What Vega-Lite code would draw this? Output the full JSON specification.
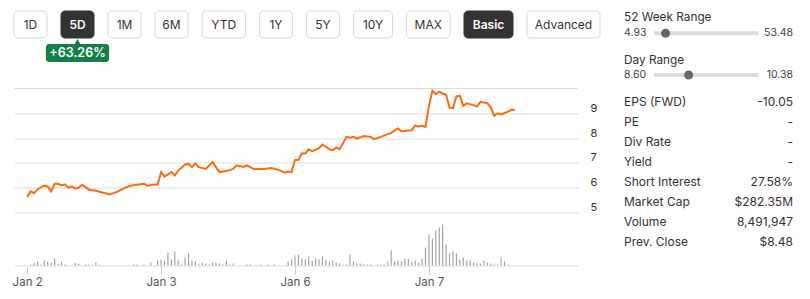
{
  "$schema": "https://vega.github.io/schema/vega-lite/v6.json",
  "padding": {"left": 12, "top": 0, "right": 0, "bottom": 0},
  "background": "#ffffff",
  "spacing": 23,
  "config": {"view": {"stroke": null}, "font": "Inter"},
  "datasets": {
    "buttons": [
      {"order": 1, "label": "1D", "state": "off"},
      {"order": 2, "label": "5D", "state": "on", "change": "+63.26%"},
      {"order": 3, "label": "1M", "state": "off"},
      {"order": 4, "label": "6M", "state": "off"},
      {"order": 5, "label": "YTD", "state": "off"},
      {"order": 6, "label": "1Y", "state": "off"},
      {"order": 7, "label": "5Y", "state": "off"},
      {"order": 8, "label": "10Y", "state": "off"},
      {"order": 9, "label": "MAX", "state": "off"},
      {"order": 10, "label": "Basic", "state": "on"},
      {"order": 11, "label": "Advanced", "state": "off"}
    ],
    "ranges": [
      {"name": "52 Week Range", "low": 4.93, "high": 53.48, "thumb": 10.3},
      {"name": "Day Range", "low": 8.6, "high": 10.38, "thumb": 9.19}
    ],
    "stats": [
      {"label": "EPS (FWD)", "value": "-10.05"},
      {"label": "PE", "value": "-"},
      {"label": "Div Rate", "value": "-"},
      {"label": "Yield", "value": "-"},
      {"label": "Short Interest", "value": "27.58%"},
      {"label": "Market Cap", "value": "$282.35M"},
      {"label": "Volume", "value": "8,491,947"},
      {"label": "Prev. Close", "value": "$8.48"}
    ],
    "price": [
      {"t": 0, "price": 5.62}, {"t": 1, "price": 5.85}, {"t": 2, "price": 5.78}, {"t": 3, "price": 5.93},
      {"t": 5, "price": 6.09}, {"t": 6, "price": 6.05}, {"t": 7, "price": 5.85}, {"t": 8, "price": 6.16},
      {"t": 9, "price": 6.16}, {"t": 10, "price": 6.09}, {"t": 11, "price": 6.13}, {"t": 12, "price": 6.0},
      {"t": 13, "price": 6.05}, {"t": 14, "price": 5.96}, {"t": 15, "price": 6.0}, {"t": 16, "price": 6.12},
      {"t": 18, "price": 5.92}, {"t": 20, "price": 5.88}, {"t": 24, "price": 5.73}, {"t": 26, "price": 5.82},
      {"t": 28, "price": 5.96}, {"t": 30, "price": 6.08}, {"t": 32, "price": 6.12}, {"t": 34, "price": 6.16},
      {"t": 35, "price": 6.08}, {"t": 37, "price": 6.13}, {"t": 38, "price": 6.13}, {"t": 39, "price": 6.63},
      {"t": 40, "price": 6.45}, {"t": 42, "price": 6.63}, {"t": 43, "price": 6.49}, {"t": 44, "price": 6.69},
      {"t": 46, "price": 6.94}, {"t": 47, "price": 6.96}, {"t": 48, "price": 6.83}, {"t": 49, "price": 6.98},
      {"t": 50, "price": 6.83}, {"t": 52, "price": 6.76}, {"t": 54, "price": 7.03}, {"t": 56, "price": 6.63},
      {"t": 58, "price": 6.67}, {"t": 60, "price": 6.76}, {"t": 61, "price": 6.9}, {"t": 63, "price": 6.84},
      {"t": 64, "price": 6.9}, {"t": 66, "price": 6.75}, {"t": 69, "price": 6.75}, {"t": 71, "price": 6.79},
      {"t": 73, "price": 6.73}, {"t": 75, "price": 6.61}, {"t": 76, "price": 6.65}, {"t": 77, "price": 6.63},
      {"t": 78, "price": 7.12}, {"t": 79, "price": 7.12}, {"t": 80, "price": 7.39}, {"t": 81, "price": 7.38},
      {"t": 82, "price": 7.55}, {"t": 83, "price": 7.47}, {"t": 85, "price": 7.59}, {"t": 86, "price": 7.74},
      {"t": 88, "price": 7.55}, {"t": 89, "price": 7.51}, {"t": 90, "price": 7.62}, {"t": 91, "price": 7.55},
      {"t": 93, "price": 8.05}, {"t": 94, "price": 8.02}, {"t": 95, "price": 8.05}, {"t": 96, "price": 7.98},
      {"t": 98, "price": 8.08}, {"t": 100, "price": 8.05}, {"t": 101, "price": 7.96}, {"t": 103, "price": 8.05},
      {"t": 105, "price": 8.16}, {"t": 106, "price": 8.2}, {"t": 107, "price": 8.31}, {"t": 108, "price": 8.39},
      {"t": 109, "price": 8.27}, {"t": 111, "price": 8.31}, {"t": 112, "price": 8.32}, {"t": 113, "price": 8.5},
      {"t": 114, "price": 8.47}, {"t": 115, "price": 8.5}, {"t": 116, "price": 8.45}, {"t": 117, "price": 9.3},
      {"t": 118, "price": 9.91}, {"t": 119, "price": 9.77}, {"t": 120, "price": 9.87}, {"t": 121, "price": 9.8},
      {"t": 122, "price": 9.75}, {"t": 123, "price": 9.23}, {"t": 124, "price": 9.21}, {"t": 125, "price": 9.68},
      {"t": 126, "price": 9.71}, {"t": 127, "price": 9.3}, {"t": 128, "price": 9.4}, {"t": 130, "price": 9.33},
      {"t": 131, "price": 9.27}, {"t": 132, "price": 9.46}, {"t": 134, "price": 9.41}, {"t": 135, "price": 9.23},
      {"t": 136, "price": 8.9}, {"t": 137, "price": 9.0}, {"t": 138, "price": 8.95}, {"t": 140, "price": 9.07},
      {"t": 141, "price": 9.14}, {"t": 142, "price": 9.14}
    ],
    "volume": [
      {"t": 1, "vol": 29600}, {"t": 2, "vol": 79900}, {"t": 3, "vol": 118400}, {"t": 4, "vol": 29600},
      {"t": 5, "vol": 148000}, {"t": 6, "vol": 118400}, {"t": 7, "vol": 88800}, {"t": 8, "vol": 207200},
      {"t": 9, "vol": 50300}, {"t": 10, "vol": 118400}, {"t": 11, "vol": 29600}, {"t": 14, "vol": 79900},
      {"t": 15, "vol": 50300}, {"t": 17, "vol": 29600}, {"t": 18, "vol": 29600}, {"t": 19, "vol": 29600},
      {"t": 20, "vol": 88800}, {"t": 21, "vol": 29600}, {"t": 31, "vol": 29600}, {"t": 32, "vol": 29600},
      {"t": 34, "vol": 29600}, {"t": 36, "vol": 88800}, {"t": 38, "vol": 148000}, {"t": 39, "vol": 177600},
      {"t": 40, "vol": 148000}, {"t": 41, "vol": 384800}, {"t": 42, "vol": 177600}, {"t": 43, "vol": 414400},
      {"t": 44, "vol": 148000}, {"t": 45, "vol": 29600}, {"t": 46, "vol": 236800}, {"t": 47, "vol": 355200},
      {"t": 48, "vol": 148000}, {"t": 49, "vol": 118400}, {"t": 50, "vol": 59200}, {"t": 51, "vol": 88800},
      {"t": 52, "vol": 50300}, {"t": 53, "vol": 29600}, {"t": 54, "vol": 88800}, {"t": 55, "vol": 88800},
      {"t": 56, "vol": 59200}, {"t": 57, "vol": 29600}, {"t": 58, "vol": 148000}, {"t": 59, "vol": 29600},
      {"t": 60, "vol": 59200}, {"t": 64, "vol": 29600}, {"t": 65, "vol": 29600}, {"t": 68, "vol": 29600},
      {"t": 70, "vol": 29600}, {"t": 72, "vol": 29600}, {"t": 76, "vol": 118400}, {"t": 77, "vol": 177600},
      {"t": 78, "vol": 296000}, {"t": 79, "vol": 325600}, {"t": 80, "vol": 216100}, {"t": 81, "vol": 177600},
      {"t": 82, "vol": 266400}, {"t": 83, "vol": 148000}, {"t": 84, "vol": 216100}, {"t": 85, "vol": 177600},
      {"t": 86, "vol": 266400}, {"t": 87, "vol": 177600}, {"t": 88, "vol": 118400}, {"t": 89, "vol": 148000},
      {"t": 90, "vol": 88800}, {"t": 91, "vol": 59200}, {"t": 92, "vol": 29600}, {"t": 93, "vol": 29600},
      {"t": 94, "vol": 325600}, {"t": 95, "vol": 118400}, {"t": 96, "vol": 59200}, {"t": 97, "vol": 59200},
      {"t": 98, "vol": 29600}, {"t": 99, "vol": 29600}, {"t": 100, "vol": 29600}, {"t": 102, "vol": 29600},
      {"t": 103, "vol": 29600}, {"t": 104, "vol": 29600}, {"t": 105, "vol": 118400}, {"t": 106, "vol": 444000},
      {"t": 107, "vol": 118400}, {"t": 108, "vol": 148000}, {"t": 109, "vol": 118400}, {"t": 110, "vol": 207200},
      {"t": 111, "vol": 207200}, {"t": 112, "vol": 118400}, {"t": 113, "vol": 148000}, {"t": 114, "vol": 88800},
      {"t": 115, "vol": 207200}, {"t": 116, "vol": 532800}, {"t": 117, "vol": 917600}, {"t": 118, "vol": 799200},
      {"t": 119, "vol": 1036000}, {"t": 120, "vol": 1124800}, {"t": 121, "vol": 1213600}, {"t": 122, "vol": 621600},
      {"t": 123, "vol": 355200}, {"t": 124, "vol": 414400}, {"t": 125, "vol": 355200}, {"t": 126, "vol": 177600},
      {"t": 127, "vol": 236800}, {"t": 128, "vol": 148000}, {"t": 129, "vol": 148000}, {"t": 130, "vol": 88800},
      {"t": 131, "vol": 59200}, {"t": 132, "vol": 59200}, {"t": 133, "vol": 148000}, {"t": 134, "vol": 88800},
      {"t": 135, "vol": 59200}, {"t": 136, "vol": 29600}, {"t": 137, "vol": 29600}, {"t": 138, "vol": 236800},
      {"t": 139, "vol": 118400}, {"t": 140, "vol": 29600}
    ]
  },
  "hconcat": [
    {
      "bounds": "flush",
      "spacing": 10.5,
      "vconcat": [
        {
          "width": 586,
          "height": 77.5,
          "data": {"name": "buttons"},
          "transform": [
            {"calculate": "length(datum.label) - length(replace(datum.label, regexp('[A-Z]', 'g'), ''))", "as": "nU"},
            {"calculate": "length(datum.label) - length(replace(datum.label, regexp('[0-9]', 'g'), ''))", "as": "nD"},
            {"calculate": "length(datum.label) - length(replace(datum.label, regexp('[a-z]', 'g'), ''))", "as": "nL"},
            {"calculate": "length(datum.label) - length(replace(datum.label, regexp('i', 'g'), ''))", "as": "nI"},
            {"calculate": "18.75 + 8.25 * datum.nU + 6 * datum.nD + 6.57 * datum.nL - 4.27 * datum.nI", "as": "w"},
            {"calculate": "datum.w + 14", "as": "step"},
            {"window": [{"op": "sum", "field": "step", "as": "cum"}], "sort": [{"field": "order", "order": "ascending"}], "frame": [null, 0]},
            {"calculate": "datum.cum - datum.step", "as": "x0"},
            {"calculate": "datum.x0 + datum.w", "as": "x1"},
            {"calculate": "datum.x0 + datum.w / 2", "as": "xc"}
          ],
          "layer": [
            {
              "mark": {"type": "bar", "height": 27, "cornerRadius": 4, "strokeWidth": 1},
              "encoding": {
                "x": {"field": "x0", "type": "quantitative", "scale": {"domain": [0, 586], "nice": false, "zero": false}, "axis": null},
                "x2": {"field": "x1"},
                "y": {"datum": "range", "type": "nominal", "scale": {"type": "band", "domain": ["range", "change"], "paddingInner": 0, "paddingOuter": 0.36}, "axis": null},
                "fill": {"field": "state", "type": "nominal", "scale": {"domain": ["on", "off"], "range": ["#333333", "#ffffff"]}, "legend": null},
                "stroke": {"field": "state", "type": "nominal", "scale": {"domain": ["on", "off"], "range": ["#333333", "#d9d9d9"]}, "legend": null}
              }
            },
            {
              "mark": {"type": "text", "fontSize": 12, "fontWeight": {"expr": "datum.state == 'on' ? 600 : 400"}},
              "encoding": {
                "x": {"field": "xc", "type": "quantitative", "scale": {"domain": [0, 586], "nice": false, "zero": false}, "axis": null},
                "y": {"datum": "range", "type": "nominal"},
                "text": {"field": "label"},
                "color": {"field": "state", "type": "nominal", "scale": {"domain": ["on", "off"], "range": ["#ffffff", "#333333"]}, "legend": null}
              }
            },
            {
              "transform": [
                {"filter": "datum.change != null"},
                {"calculate": "10 + 7.6 * length(datum.change)", "as": "bw"},
                {"calculate": "datum.xc - datum.bw / 2", "as": "bx0"},
                {"calculate": "datum.xc + datum.bw / 2", "as": "bx1"}
              ],
              "layer": [
                {
                  "mark": {"type": "bar", "height": 18, "cornerRadius": 3, "color": "#158046"},
                  "encoding": {
                    "x": {"field": "bx0", "type": "quantitative", "scale": {"domain": [0, 586], "nice": false, "zero": false}, "axis": null},
                    "x2": {"field": "bx1"},
                    "y": {"datum": "change", "type": "nominal"}
                  }
                },
                {
                  "mark": {"type": "point", "shape": "triangle-up", "filled": true, "size": 45, "color": "#158046", "opacity": 1, "yOffset": -11},
                  "encoding": {
                    "x": {"field": "xc", "type": "quantitative", "scale": {"domain": [0, 586], "nice": false, "zero": false}, "axis": null},
                    "y": {"datum": "change", "type": "nominal"}
                  }
                },
                {
                  "mark": {"type": "text", "fontSize": 12.5, "fontWeight": 600, "color": "#ffffff"},
                  "encoding": {
                    "x": {"field": "xc", "type": "quantitative", "scale": {"domain": [0, 586], "nice": false, "zero": false}, "axis": null},
                    "y": {"datum": "change", "type": "nominal"},
                    "text": {"field": "change"}
                  }
                }
              ]
            }
          ]
        },
        {
          "width": 564,
          "height": 177,
          "layer": [
            {
              "data": {"values": [{"level": 10}]},
              "mark": {"type": "rule", "color": "#dddddd", "strokeWidth": 1},
              "encoding": {
                "y": {"field": "level", "type": "quantitative", "scale": {"domain": [2.863, 10], "nice": false, "zero": false}, "axis": null}
              }
            },
            {
              "data": {"name": "volume"},
              "mark": {"type": "bar", "width": 1.1, "color": "#9c9c9c"},
              "encoding": {
                "x": {"field": "t", "type": "quantitative", "scale": {"domain": [-2.37, 158.95], "nice": false, "zero": false},
                  "axis": {"values": [0, 39, 78, 117], "labelExpr": "datum.value == 0 ? 'Jan 2' : datum.value == 39 ? 'Jan 3' : datum.value == 78 ? 'Jan 6' : 'Jan 7'", "grid": false, "domainColor": "#dddddd", "tickColor": "#cccccc", "tickSize": 9, "labelPadding": 2, "labelFontSize": 11.5, "labelColor": "#555555", "labelFlush": 10, "labelFlushOffset": -8, "title": null}},
                "y": {"field": "vol", "type": "quantitative", "scale": {"domain": [0, 5239200], "nice": false, "zero": true}, "axis": null}
              }
            },
            {
              "data": {"name": "price"},
              "mark": {"type": "line", "color": "#ff6a0d", "strokeWidth": 2},
              "encoding": {
                "x": {"field": "t", "type": "quantitative", "scale": {"domain": [-2.37, 158.95], "nice": false, "zero": false},
                  "axis": {"values": [0, 39, 78, 117], "labelExpr": "datum.value == 0 ? 'Jan 2' : datum.value == 39 ? 'Jan 3' : datum.value == 78 ? 'Jan 6' : 'Jan 7'", "grid": false, "domainColor": "#dddddd", "tickColor": "#cccccc", "tickSize": 9, "labelPadding": 2, "labelFontSize": 11.5, "labelColor": "#555555", "labelFlush": 10, "labelFlushOffset": -8, "title": null}},
                "y": {"field": "price", "type": "quantitative", "scale": {"domain": [2.863, 10], "nice": false, "zero": false},
                  "axis": {"orient": "right", "values": [5, 6, 7, 8, 9], "grid": true, "gridColor": "#dddddd", "domain": false, "ticks": false, "tickSize": 0, "labelPadding": 12, "labelBaseline": "bottom", "labelFontSize": 11, "labelColor": "#333333", "title": null}}
              }
            }
          ],
          "resolve": {"scale": {"y": "independent"}}
        }
      ]
    },
    {
      "bounds": "flush",
      "spacing": 0,
      "vconcat": [
        {
          "width": 169,
          "height": 50,
          "data": {"name": "ranges"},
          "transform": [{"filter": "datum.name == '52 Week Range'"}],
          "layer": [
            {
              "mark": {"type": "rule", "strokeWidth": 4, "color": "#dddddd"},
              "encoding": {
                "x": {"field": "low", "type": "quantitative", "scale": {"range": [30, 134.5], "nice": false, "zero": false}, "axis": null},
                "x2": {"field": "high"},
                "y": {"datum": "bar", "type": "nominal", "scale": {"type": "point", "domain": ["title", "bar"], "padding": 1}, "axis": null}
              }
            },
            {
              "mark": {"type": "point", "filled": true, "color": "#666666", "size": 80, "opacity": 1},
              "encoding": {
                "x": {"field": "thumb", "type": "quantitative"},
                "y": {"datum": "bar", "type": "nominal"}
              }
            },
            {
              "mark": {"type": "text", "align": "left", "dx": -30, "fontSize": 11.8, "color": "#333333"},
              "encoding": {
                "x": {"field": "low", "type": "quantitative"},
                "y": {"datum": "title", "type": "nominal"},
                "text": {"field": "name"}
              }
            },
            {
              "mark": {"type": "text", "align": "left", "dx": -30, "fontSize": 10.5, "color": "#444444"},
              "encoding": {
                "x": {"field": "low", "type": "quantitative"},
                "y": {"datum": "bar", "type": "nominal"},
                "text": {"field": "low", "type": "quantitative", "format": ".2f"}
              }
            },
            {
              "mark": {"type": "text", "align": "right", "dx": 34.5, "fontSize": 10.5, "color": "#444444"},
              "encoding": {
                "x": {"field": "high", "type": "quantitative"},
                "y": {"datum": "bar", "type": "nominal"},
                "text": {"field": "high", "type": "quantitative", "format": ".2f"}
              }
            }
          ]
        },
        {
          "width": 169,
          "height": 35,
          "data": {"name": "ranges"},
          "transform": [{"filter": "datum.name == 'Day Range'"}],
          "layer": [
            {
              "mark": {"type": "rule", "strokeWidth": 4, "color": "#dddddd"},
              "encoding": {
                "x": {"field": "low", "type": "quantitative", "scale": {"range": [30, 134.5], "nice": false, "zero": false}, "axis": null},
                "x2": {"field": "high"},
                "y": {"datum": "bar", "type": "nominal", "scale": {"type": "point", "domain": ["title", "bar"], "padding": 0.667}, "axis": null}
              }
            },
            {
              "mark": {"type": "point", "filled": true, "color": "#666666", "size": 80, "opacity": 1},
              "encoding": {
                "x": {"field": "thumb", "type": "quantitative"},
                "y": {"datum": "bar", "type": "nominal"}
              }
            },
            {
              "mark": {"type": "text", "align": "left", "dx": -30, "fontSize": 11.8, "color": "#333333"},
              "encoding": {
                "x": {"field": "low", "type": "quantitative"},
                "y": {"datum": "title", "type": "nominal"},
                "text": {"field": "name"}
              }
            },
            {
              "mark": {"type": "text", "align": "left", "dx": -30, "fontSize": 10.5, "color": "#444444"},
              "encoding": {
                "x": {"field": "low", "type": "quantitative"},
                "y": {"datum": "bar", "type": "nominal"},
                "text": {"field": "low", "type": "quantitative", "format": ".2f"}
              }
            },
            {
              "mark": {"type": "text", "align": "right", "dx": 34.5, "fontSize": 10.5, "color": "#444444"},
              "encoding": {
                "x": {"field": "high", "type": "quantitative"},
                "y": {"datum": "bar", "type": "nominal"},
                "text": {"field": "high", "type": "quantitative", "format": ".2f"}
              }
            }
          ]
        },
        {
          "width": 169,
          "height": 174,
          "data": {"name": "stats"},
          "layer": [
            {
              "mark": {"type": "text", "align": "left", "fontSize": 12, "color": "#333333"},
              "encoding": {
                "x": {"datum": "label", "type": "nominal", "scale": {"type": "point", "domain": ["label", "value"], "padding": 0}, "axis": null},
                "y": {"field": "label", "type": "ordinal", "sort": null, "scale": {"type": "point", "padding": 0.835}, "axis": null},
                "text": {"field": "label"}
              }
            },
            {
              "mark": {"type": "text", "align": "right", "fontSize": 12, "color": "#333333"},
              "encoding": {
                "x": {"datum": "value", "type": "nominal"},
                "y": {"field": "label", "type": "ordinal", "sort": null},
                "text": {"field": "value"}
              }
            }
          ]
        }
      ]
    }
  ]
}
